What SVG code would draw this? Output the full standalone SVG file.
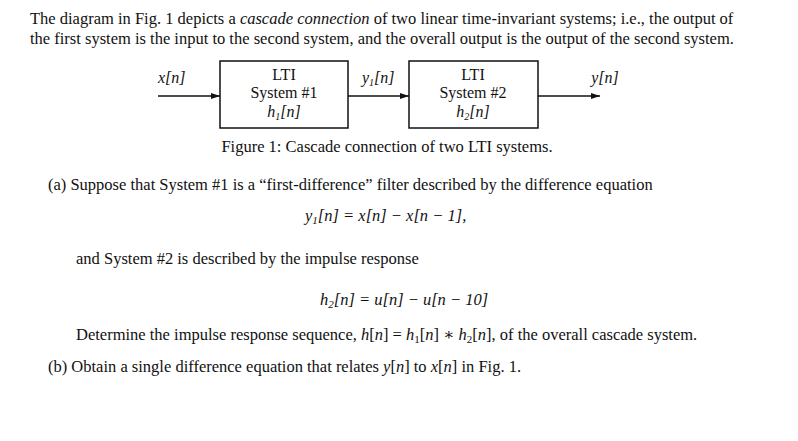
<svg xmlns="http://www.w3.org/2000/svg" width="798" height="441" viewBox="0 0 798 441">
<style>
text{font-family:"Liberation Serif","DejaVu Serif","Times New Roman",serif;font-size:16.5px;fill:#111}
.c{text-anchor:middle}
.i{font-style:italic}
.b{font-size:16px}
.box{fill:#fff;stroke:#111;stroke-width:1.5}
.ln{stroke:#111;stroke-width:1.5;fill:none}
</style>
<defs><marker id="ah" markerWidth="10" markerHeight="8" refX="9" refY="4" orient="auto" markerUnits="userSpaceOnUse"><path d="M0,1 L9,4 L0,7 Z" fill="#111"/></marker></defs>
<rect width="798" height="441" fill="#fff"/>
<text x="30" y="24">The diagram in Fig. 1 depicts a <tspan class="i">cascade connection</tspan> of two linear time-invariant systems; i.e., the output of</text>
<text x="30" y="44">the first system is the input to the second system, and the overall output is the output of the second system.</text>
<g id="connectors">
<line class="ln" x1="158" y1="96" x2="220" y2="96" marker-end="url(#ah)"/>
<line class="ln" x1="348" y1="96" x2="409" y2="96" marker-end="url(#ah)"/>
<line class="ln" x1="538" y1="96" x2="600" y2="96" marker-end="url(#ah)"/>
</g>
<g id="x"><text x="158" y="83" class="i b">x[n]</text></g>
<g id="sys1"><rect class="box" x="220" y="61" width="128" height="67"/>
<text x="284" y="80" class="c b">LTI</text><text x="284" y="98" class="c b">System #1</text><text x="284" y="117" class="c i b">h<tspan font-size="10" dy="3">1</tspan><tspan dy="-3">[n]</tspan></text></g>
<g id="y1"><text x="362" y="83" class="i b">y<tspan font-size="10" dy="3">1</tspan><tspan dy="-3">[n]</tspan></text></g>
<g id="sys2"><rect class="box" x="409" y="61" width="129" height="67"/>
<text x="473" y="80" class="c b">LTI</text><text x="473" y="98" class="c b">System #2</text><text x="473" y="117" class="c i b">h<tspan font-size="10" dy="3">2</tspan><tspan dy="-3">[n]</tspan></text></g>
<g id="y"><text x="605" y="83" class="c i b">y[n]</text></g>
<text x="387" y="152" class="c">Figure 1: Cascade connection of two LTI systems.</text>
<text x="48" y="190">(a) Suppose that System #1 is a “first-difference” filter described by the difference equation</text>
<text x="305" y="221" class="i">y<tspan font-size="11" dy="3">1</tspan><tspan dy="-3">[n] = x[n] − x[n − 1],</tspan></text>
<text x="76" y="264">and System #2 is described by the impulse response</text>
<text x="320" y="305" class="i">h<tspan font-size="11" dy="3">2</tspan><tspan dy="-3">[n] = u[n] − u[n − 10]</tspan></text>
<text x="76" y="340">Determine the impulse response sequence, <tspan class="i">h</tspan>[<tspan class="i">n</tspan>] = <tspan class="i">h</tspan><tspan font-size="11" dy="3">1</tspan><tspan dy="-3">[</tspan><tspan class="i">n</tspan>] ∗ <tspan class="i">h</tspan><tspan font-size="11" dy="3">2</tspan><tspan dy="-3">[</tspan><tspan class="i">n</tspan>], of the overall cascade system.</text>
<text x="48" y="372">(b) Obtain a single difference equation that relates <tspan class="i">y</tspan>[<tspan class="i">n</tspan>] to <tspan class="i">x</tspan>[<tspan class="i">n</tspan>] in Fig. 1.</text>
</svg>
